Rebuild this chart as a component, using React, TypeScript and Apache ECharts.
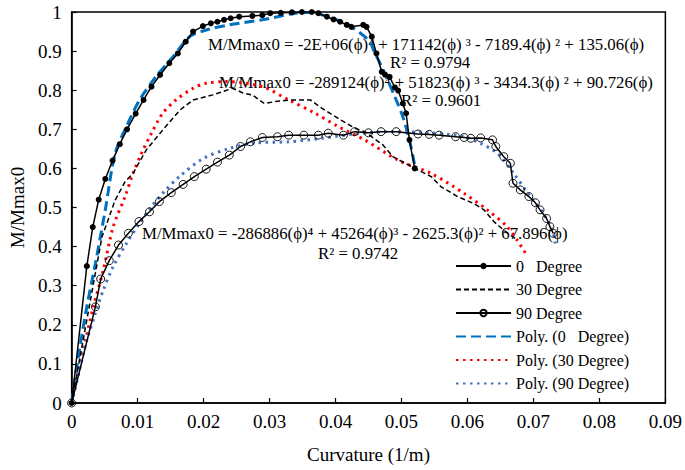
import React, { useEffect, useRef } from 'react';
import * as echarts from 'echarts';

// curvature (1/m), M/Mmax0
const deg0: number[][] = [
  [0, 0], [0.0023, 0.35], [0.0032, 0.45], [0.0041, 0.52], [0.0051, 0.573], [0.0062, 0.62],
  [0.0073, 0.662], [0.0084, 0.70], [0.0097, 0.74], [0.0109, 0.775], [0.0121, 0.809],
  [0.0134, 0.839], [0.0148, 0.869], [0.0161, 0.894], [0.0173, 0.924], [0.0184, 0.95],
  [0.0199, 0.964], [0.0211, 0.971], [0.0221, 0.975], [0.0231, 0.98], [0.0241, 0.984],
  [0.0254, 0.988], [0.0274, 0.99], [0.0289, 0.992], [0.0301, 0.997], [0.0317, 0.998],
  [0.0334, 0.999], [0.0349, 1.0], [0.0364, 1.0], [0.0374, 0.997], [0.0387, 0.988],
  [0.0397, 0.981], [0.0407, 0.975], [0.0417, 0.967], [0.0424, 0.962], [0.0442, 0.967],
  [0.0447, 0.962], [0.0455, 0.937], [0.0462, 0.894], [0.047, 0.847], [0.0475, 0.84],
  [0.0482, 0.834], [0.049, 0.807], [0.0495, 0.799], [0.0502, 0.766], [0.0507, 0.741],
  [0.0512, 0.673], [0.052, 0.60],
];

const deg30: number[][] = [
  [0, 0], [0.0046, 0.425], [0.0066, 0.519], [0.0081, 0.566], [0.0093, 0.587], [0.0113, 0.647],
  [0.0138, 0.698], [0.0164, 0.749], [0.0184, 0.775], [0.0214, 0.788], [0.0244, 0.805],
  [0.0261, 0.792], [0.0274, 0.788], [0.0292, 0.766], [0.0309, 0.771], [0.0334, 0.775],
  [0.0362, 0.775], [0.0379, 0.754], [0.0404, 0.728], [0.0429, 0.703], [0.0444, 0.694],
  [0.0472, 0.66], [0.0487, 0.63], [0.052, 0.60], [0.0545, 0.579], [0.056, 0.553],
  [0.0585, 0.528], [0.061, 0.51], [0.0625, 0.494], [0.064, 0.464], [0.0655, 0.442],
  [0.0675, 0.417],
];

const deg90: number[][] = [
  [0, 0], [0.0036, 0.246], [0.0044, 0.317], [0.0057, 0.364], [0.0071, 0.404], [0.0086, 0.434],
  [0.0102, 0.464], [0.0118, 0.489], [0.0133, 0.515], [0.0151, 0.538], [0.0169, 0.559],
  [0.0186, 0.579], [0.0204, 0.598], [0.0221, 0.616], [0.0239, 0.634], [0.0256, 0.656],
  [0.0271, 0.668], [0.0289, 0.679], [0.0312, 0.681], [0.0329, 0.685], [0.0352, 0.685],
  [0.0374, 0.685], [0.0389, 0.69], [0.0412, 0.685], [0.0429, 0.694], [0.045, 0.691],
  [0.0469, 0.694], [0.0492, 0.694], [0.0525, 0.688], [0.0542, 0.687], [0.0557, 0.685],
  [0.0582, 0.681], [0.0595, 0.679], [0.0605, 0.677], [0.062, 0.678], [0.0638, 0.673],
  [0.0643, 0.656], [0.0655, 0.63], [0.0665, 0.613], [0.0669, 0.562], [0.068, 0.545],
  [0.0693, 0.528], [0.0703, 0.512], [0.071, 0.494], [0.072, 0.472], [0.0725, 0.451],
  [0.073, 0.434],
];

const poly0: number[][] = [
  [0, 0], [0.0011, 0.127], [0.0023, 0.246], [0.0036, 0.357], [0.0051, 0.494], [0.0066, 0.639],
  [0.0083, 0.707], [0.0103, 0.775], [0.0128, 0.835], [0.0154, 0.886], [0.0179, 0.937],
  [0.0204, 0.954], [0.0239, 0.967], [0.0289, 0.98], [0.0339, 0.997], [0.0359, 0.999],
  [0.0389, 0.988], [0.0419, 0.967], [0.045, 0.928], [0.046, 0.894], [0.047, 0.86],
  [0.049, 0.783], [0.0502, 0.732], [0.0512, 0.673], [0.052, 0.609],
];

const poly30: number[][] = [
  [0, 0], [0.0011, 0.084], [0.0021, 0.161], [0.0033, 0.246], [0.0048, 0.34], [0.0063, 0.451],
  [0.0081, 0.528], [0.0093, 0.587], [0.0106, 0.639], [0.0121, 0.69], [0.0138, 0.741],
  [0.0158, 0.775], [0.0184, 0.805], [0.0204, 0.818], [0.0234, 0.822], [0.0289, 0.809],
  [0.0329, 0.775], [0.0369, 0.741], [0.0404, 0.707], [0.0444, 0.673], [0.0495, 0.621],
  [0.0545, 0.587], [0.0595, 0.536], [0.063, 0.494], [0.066, 0.451], [0.0675, 0.417],
  [0.0688, 0.383],
];

const poly90: number[][] = [
  [0, 0], [0.0013, 0.093], [0.0023, 0.161], [0.0036, 0.23], [0.0048, 0.289], [0.0063, 0.349],
  [0.0083, 0.408], [0.0103, 0.46], [0.012, 0.5], [0.014, 0.54], [0.0164, 0.58],
  [0.0199, 0.625], [0.0239, 0.651], [0.0279, 0.665], [0.0329, 0.668], [0.0379, 0.677],
  [0.0429, 0.688], [0.0485, 0.694], [0.0545, 0.691], [0.0595, 0.681], [0.062, 0.664],
  [0.0645, 0.639], [0.067, 0.587], [0.0695, 0.528], [0.0715, 0.485], [0.073, 0.434],
  [0.0733, 0.408],
];

const seriesNames = [
  '0\u00a0\u00a0 Degree',
  '30 Degree',
  '90 Degree',
  'Poly. (0\u00a0\u00a0 Degree)',
  'Poly. (30 Degree)',
  'Poly. (90 Degree)',
];

const equations = [
  'M/Mmax0 = -2E+06(ϕ)⁴ + 171142(ϕ) ³ - 7189.4(ϕ) ² + 135.06(ϕ)',
  'R² = 0.9794',
  'M/Mmax0 = -289124(ϕ)⁴ + 51823(ϕ) ³ - 3434.3(ϕ) ² + 90.726(ϕ)',
  'R² = 0.9601',
  'M/Mmax0 = -286886(ϕ)⁴ + 45264(ϕ)³ - 2625.3(ϕ)² + 67.896(ϕ)',
  'R² = 0.9742',
];

const FONT = "'Times New Roman', 'Liberation Serif', serif";

const App: React.FC = () => {
  const chartRef = useRef<HTMLDivElement>(null);

  useEffect(() => {
    if (!chartRef.current) return;
    const myChart = echarts.init(chartRef.current, null, { renderer: 'svg' });

    // equation labels: [text index, left, center y]
    const eqPos = [
      [0, 208, 44],
      [1, 390, 62],
      [2, 219, 82],
      [3, 401, 100],
      [4, 142, 233],
      [5, 318, 253],
    ];

    const noSymbol = { itemStyle: { opacity: 0 } };

    const option = {
      animation: false,
      textStyle: { fontFamily: FONT },
      grid: {
        left: 68, top: 12, right: 19, bottom: 67,
        show: true, borderColor: '#000', borderWidth: 1.5,
      },
      xAxis: {
        type: 'value', min: 0, max: 0.09, interval: 0.01,
        name: 'Curvature (1/m)', nameLocation: 'middle', nameGap: 42,
        nameTextStyle: { fontFamily: FONT, fontSize: 19, color: '#000' },
        axisLine: { lineStyle: { color: '#000', width: 1.5 } },
        axisTick: { inside: true, length: 5, lineStyle: { color: '#000', width: 1.2 } },
        axisLabel: {
          fontFamily: FONT, fontSize: 19, color: '#000', margin: 9,
          formatter: (v: number) => String(+v.toFixed(2)),
        },
        splitLine: { show: false },
      },
      yAxis: {
        type: 'value', min: 0, max: 1, interval: 0.1,
        name: 'M/Mmax0', nameLocation: 'middle', nameGap: 35, nameRotate: 90,
        nameTextStyle: { fontFamily: FONT, fontSize: 19, color: '#000' },
        axisLine: { lineStyle: { color: '#000', width: 1.5 } },
        axisTick: { inside: true, length: 5, lineStyle: { color: '#000', width: 1.2 } },
        axisLabel: {
          fontFamily: FONT, fontSize: 19, color: '#000', margin: 10,
          formatter: (v: number) => String(+v.toFixed(1)),
        },
        splitLine: { show: false },
      },
      legend: {
        orient: 'vertical', left: 455, top: 258, padding: 0,
        itemWidth: 55, itemHeight: 8, itemGap: 7.5,
        textStyle: { fontFamily: FONT, fontSize: 16, color: '#000', lineHeight: 16 },
        data: [
          { name: seriesNames[0] },
          { name: seriesNames[1], ...noSymbol },
          { name: seriesNames[2] },
          { name: seriesNames[3], ...noSymbol },
          { name: seriesNames[4], ...noSymbol },
          { name: seriesNames[5], ...noSymbol },
        ],
      },
      graphic: eqPos.map(([i, x, y]) => ({
        type: 'text', x, y, z: 1,
        style: {
          text: equations[i], fill: '#000',
          font: `16.8px ${FONT}`, verticalAlign: 'middle', align: 'left',
        },
      })),
      series: [
        {
          name: seriesNames[0], type: 'line', data: deg0, z: 5,
          symbol: 'circle', symbolSize: 6, itemStyle: { color: '#000' },
          lineStyle: { color: '#000', width: 1.5 },
        },
        {
          name: seriesNames[1], type: 'line', data: deg30, z: 4, symbol: 'none',
          itemStyle: { color: '#000' },
          lineStyle: { color: '#000', width: 1.5, type: [5, 3] },
        },
        {
          name: seriesNames[2], type: 'line', data: deg90, z: 5,
          symbol: 'circle', symbolSize: 8, showAllSymbol: true,
          itemStyle: { color: 'rgba(255,255,255,0)', borderColor: '#000', borderWidth: 0.9 },
          lineStyle: { color: '#000', width: 1.5 },
        },
        {
          name: seriesNames[3], type: 'line', data: poly0, z: 3, symbol: 'none', smooth: 0.3,
          itemStyle: { color: '#0070C0' },
          lineStyle: { color: '#0070C0', width: 3, type: [10, 5] },
        },
        {
          name: seriesNames[4], type: 'line', data: poly30, z: 3, symbol: 'none', smooth: 0.3,
          itemStyle: { color: '#FF0000' },
          lineStyle: { color: '#FF0000', width: 3, type: [2.5, 4.5] },
        },
        {
          name: seriesNames[5], type: 'line', data: poly90, z: 3, symbol: 'none', smooth: 0.3,
          itemStyle: { color: '#4472C4' },
          lineStyle: { color: '#4472C4', width: 3, type: [2.5, 4.5] },
        },
      ],
    };
    myChart.setOption(option);
    return () => { myChart.dispose(); };
  }, []);

  return (
    <div
      ref={chartRef}
      style={{ position: 'fixed', left: 0, top: 0, width: 685, height: 470, background: '#fff' }}
    />
  );
};

export default App;
